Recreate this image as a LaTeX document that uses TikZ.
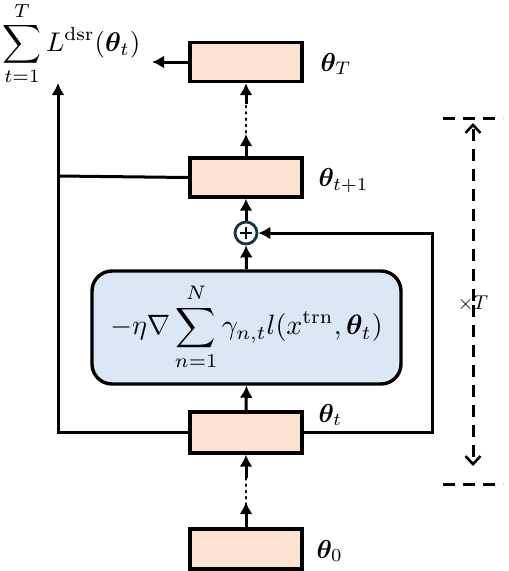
\documentclass[tikz,border=0pt]{standalone}
\usepackage{amsmath,bm,graphicx}
\usetikzlibrary{arrows.meta}
\definecolor{peach}{RGB}{251,226,209}
\definecolor{lblue}{RGB}{218,232,246}
\definecolor{darkteal}{RGB}{22,52,66}
\begin{document}
\begin{tikzpicture}[x=1pt,y=-1pt,
  line width=3pt,
  pbox/.style={draw=black,fill=peach,line width=3.4pt,minimum width=112pt,minimum height=39pt,inner sep=0pt},
  arr/.style={-{Latex[length=12pt,width=13pt]},line width=3pt},
  dotv/.style={line width=1.8pt,dash pattern=on 1.8pt off 4.5pt,line cap=round},
  txt/.style={inner sep=0pt},
  lab/.style={txt,anchor=west},
  dsh/.style={line width=3pt,dash pattern=on 12pt off 8pt},
  openv/.style={-{Straight Barb[length=8pt,width=15pt,line width=2.6pt]}}
]
\useasboundingbox (0,0) rectangle (509,571);
% boxes
\node[pbox] (T) at (246,62) {};
\node[pbox] (t1) at (246,177.5) {};
\node[pbox,minimum height=41pt] (t) at (246,432.5) {};
\node[pbox,minimum height=40pt] (z) at (246,549) {};
\node[draw=black,fill=lblue,line width=3.4pt,rounded corners=20pt,minimum width=309pt,minimum height=113pt,inner sep=0pt] (blue) at (246.5,327.5) {};
\node[txt] (upd) at (246.5,327)
  {\scalebox{2.8}{$\displaystyle -\eta\nabla\sum_{n=1}^{N}\gamma_{n,t}l(x^{\mathrm{trn}},\bm{\theta}_t)$}};
\node[circle,draw=darkteal,fill=white,line width=2.8pt,minimum size=22pt,inner sep=0pt] (plus) at (246,233) {};
\draw[line width=2.2pt] ([xshift=-6pt]plus.center) -- ([xshift=6pt]plus.center)
      ([yshift=-6pt]plus.center) -- ([yshift=6pt]plus.center);
% labels
\node[lab] (lT) at (319,64) {\scalebox{2.6}{$\bm{\theta}_T$}};
\node[lab] (lt1) at (317,181) {\scalebox{2.6}{$\bm{\theta}_{t+1}$}};
\node[lab] (lt) at (317,415) {\scalebox{2.6}{$\bm{\theta}_t$}};
\node[lab] (l0) at (315,551) {\scalebox{2.6}{$\bm{\theta}_0$}};
\node[txt,anchor=north west] (loss) at (1,0.5)
  {\scalebox{2.7}{$\displaystyle\sum_{t=1}^{T} L^{\mathrm{dsr}}(\bm{\theta}_t)$}};
% coordinates
\coordinate (lossin) at (152,62);
\coordinate (up1) at (246,134);
\coordinate (up2) at (246,104);
\coordinate (dn1) at (246,502);
\coordinate (dn2) at (246,478);
\coordinate (lefttop) at (58,83);
\coordinate (leftj) at (58,176);
\coordinate (rightc) at (432,233);
% connectors
\draw[arr] (T.west) -- (lossin);
\draw[arr] (t1.north) -- (up1);
\draw[dotv] ([yshift=-5pt]up1) -- ([yshift=5pt]up2);
\draw[arr] (up2) -- (T.south);
\draw[arr] (plus.north) -- (t1.south);
\draw[arr] (blue.north) -- (plus.south);
\draw[arr] (t.north) -- (blue.south);
\draw[arr] (z.north) -- (dn1);
\draw[dotv] ([yshift=-3pt]dn1) -- ([yshift=3pt]dn2);
\draw[arr] (dn2) -- (t.south);
\draw[arr] (t.west) -| (lefttop);
\draw (t1.west) -- (leftj);
\draw[arr] (t.east) -| (rightc) -- (plus.east);
% xT
\node[inner sep=1pt] (xT) at (473,303) {\scalebox{2}{$\times T$}};
\coordinate (dtop) at (473,123);
\coordinate (dbot) at (473,466);
\draw[dsh] (443,118) -- (503,118);
\draw[dsh] (443,484) -- (503,484);
\draw[dsh,openv] ([yshift=-8pt]xT.north) -- (dtop);
\draw[dsh,openv] ([yshift=8pt]xT.south) -- (dbot);
\end{tikzpicture}
\end{document}
